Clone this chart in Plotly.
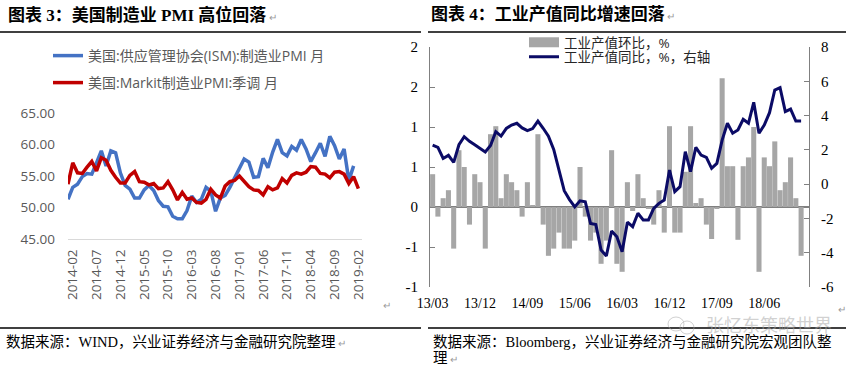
import plotly.graph_objects as go

W, H = 846, 365


def px(x):
    return x / W


def py(y):
    return 1 - y / H


# ---------------- left chart data (US PMI) ----------------
pmi_months = [f"{y}-{m:02d}" for y in range(2014, 2020) for m in range(1, 13)][:62]
pmi_tick_labels = ["2014-02", "2014-07", "2014-12", "2015-05", "2015-10", "2016-03",
                   "2016-08", "2017-01", "2017-06", "2017-11", "2018-04", "2018-09", "2019-02"]
ism_pmi = [51.3, 53.2, 53.7, 54.9, 55.4, 55.3, 57.1, 59.0, 56.6, 59.0, 58.7, 55.5,
           53.5, 52.9, 51.5, 51.5, 52.8, 53.5, 52.7, 51.1, 50.2, 50.1, 48.6, 48.2,
           48.2, 49.5, 51.8, 50.8, 51.3, 53.2, 52.6, 49.4, 51.5, 51.9, 53.2, 54.7,
           56.0, 57.7, 57.2, 54.8, 54.9, 57.8, 56.3, 58.8, 60.8, 58.7, 58.2, 59.7,
           59.1, 60.8, 59.3, 57.3, 58.7, 60.2, 58.1, 61.3, 59.8, 57.7, 59.3, 54.3,
           56.6, None]
markit_pmi = [53.7, 57.1, 55.5, 55.4, 56.4, 57.3, 55.8, 57.9, 57.5, 55.9, 54.8, 53.9,
              53.9, 55.1, 55.7, 54.1, 54.0, 53.6, 53.8, 53.0, 53.1, 54.1, 52.8, 51.2,
              52.4, 51.3, 51.5, 50.8, 50.7, 51.3, 52.9, 52.0, 51.5, 53.4, 54.1, 54.3,
              55.0, 54.2, 53.3, 52.8, 52.7, 52.0, 53.3, 52.8, 53.1, 54.6, 53.9, 55.1,
              55.5, 55.3, 55.6, 56.5, 56.4, 55.4, 55.3, 54.7, 55.6, 55.7, 55.3, 53.8,
              54.9, 53.0]
pmi_y_ticks = [45, 50, 55, 60, 65]

# ---------------- right chart data (industrial production) ----------------
ip_months = [f"{y % 100:02d}/{m:02d}" for y in range(2013, 2020) for m in range(1, 13)][2:74]
ip_tick_labels = ["13/03", "13/12", "14/09", "15/06", "16/03", "16/12", "17/09", "18/06"]
ip_mom = [0.41, -0.12, 0.11, 0.21, -0.52, 0.71, 0.50, -0.22, 0.41, 0.31, -0.52, 0.91,
          1.01, 0.11, 0.41, 0.31, 0.21, -0.12, 0.31, 0.02, 0.91, -0.22, -0.61, -0.52,
          -0.32, -0.52, -0.52, -0.42, 0.50, -0.12, -0.42, -0.32, -0.71, -0.42, 0.71, -0.71,
          -0.81, 0.31, -0.05, 0.41, 0.11, -0.02, -0.22, 0.21, -0.32, 1.01, -0.32, -0.32,
          0.44, 1.01, 0.05, 0.11, -0.22, -0.40, -0.02, 1.61, 0.51, 0.51, -0.41, 0.51,
          0.62, 1.00, -0.81, 0.62, 0.51, 0.82, 0.21, 0.31, 0.62, 0.11, -0.61]
ip_yoy = [2.28, 2.15, 1.50, 1.68, 1.27, 2.30, 2.77, 2.50, 2.30, 2.10, 1.88, 2.25,
          3.06, 2.80, 3.25, 3.45, 3.55, 3.28, 3.12, 3.24, 3.68, 3.26, 2.80, 2.03,
          0.73, -0.38, -0.90, -1.33, -0.97, -1.03, -2.29, -2.35, -3.84, -4.19, -2.73, -3.07,
          -3.94, -2.22, -2.48, -1.70, -2.09, -2.09, -1.41, -1.12, -0.93, 0.82, -0.44, -0.15,
          1.89, 0.73, 2.15, 1.70, 1.56, 0.92, 1.21, 2.57, 3.55, 2.97, 3.16, 3.78,
          3.55, 4.77, 2.97, 3.45, 4.17, 5.49, 5.63, 4.23, 4.38, 3.68, 3.68]
mom_tick_vals = [2, 1.5, 1, 0.5, 0, -0.5, -1]
mom_tick_text = ["2", "2", "1", "1", "0", "-1", "-1"]
yoy_tick_vals = [8, 6, 4, 2, 0, -2, -4, -6]
yoy_tick_text = ["8", "6", "4", "2", "0", "-2", "-4", "-6"]

SANS = "Open Sans, Noto Sans CJK SC, sans-serif"
SERIF = "Liberation Serif, Noto Sans CJK SC, serif"
GRAY_TXT = "#595959"

fig = go.Figure()

# left chart lines
fig.add_trace(go.Scatter(x=pmi_months, y=ism_pmi, mode="lines", name="美国:供应管理协会(ISM):制造业PMI 月",
                         line=dict(color="#4472C4", width=3.5), xaxis="x", yaxis="y",
                         legend="legend", connectgaps=False))
fig.add_trace(go.Scatter(x=pmi_months, y=markit_pmi, mode="lines", name="美国:Markit制造业PMI:季调 月",
                         line=dict(color="#C00000", width=3.5), xaxis="x", yaxis="y",
                         legend="legend2"))

# right chart
fig.add_trace(go.Bar(x=ip_months[:len(ip_mom)], y=ip_mom, name="工业产值环比，%",
                     marker=dict(color="#A6A6A6", line=dict(width=0)),
                     xaxis="x2", yaxis="y2", showlegend=False))
# legend proxy for the bar series (wide grey swatch as in the original)
fig.add_trace(go.Scatter(x=[None], y=[None], mode="lines", name="工业产值环比，%",
                         line=dict(color="#A6A6A6", width=10), xaxis="x2", yaxis="y2",
                         legend="legend3", hoverinfo="skip"))
fig.add_trace(go.Scatter(x=ip_months[:len(ip_yoy)], y=ip_yoy, mode="lines", name="工业产值同比，%，右轴",
                         line=dict(color="#0B0B66", width=3), xaxis="x2", yaxis="y3",
                         legend="legend4"))

legend_common = dict(bgcolor="rgba(0,0,0,0)", borderwidth=0, xanchor="left", yanchor="middle")

fig.update_layout(
    template="none",
    width=W, height=H,
    margin=dict(l=0, r=0, t=0, b=0, autoexpand=False),
    paper_bgcolor="white", plot_bgcolor="white",
    bargap=0.04,
    showlegend=True,
    legend=dict(x=px(48), y=py(56), font=dict(family=SANS, size=14, color=GRAY_TXT), **legend_common),
    legend2=dict(x=px(48), y=py(83), font=dict(family=SANS, size=14, color=GRAY_TXT), **legend_common),
    legend3=dict(x=px(524), y=py(42.5), font=dict(family=SANS, size=13.5, color="#262626"), **legend_common),
    legend4=dict(x=px(524), y=py(57), font=dict(family=SANS, size=13.5, color="#262626"), **legend_common),
    xaxis=dict(domain=[px(68), px(362)], anchor="y", type="category", categoryarray=pmi_months,
               range=[0, 61.76], tickmode="array", tickvals=pmi_tick_labels, tickangle=-90,
               showgrid=False, zeroline=False, showline=True, linecolor="#D9D9D9", linewidth=1,
               ticks="", ticklabelstandoff=4, automargin=False,
               tickfont=dict(family=SANS, size=13.5, color=GRAY_TXT)),
    yaxis=dict(domain=[py(239), py(113)], anchor="x", range=[45, 65], tickmode="array",
               tickvals=pmi_y_ticks, tickformat=".2f", showgrid=False, zeroline=False,
               showline=False, ticks="", ticklabelstandoff=12, automargin=False,
               tickfont=dict(family=SANS, size=13.5, color=GRAY_TXT)),
    xaxis2=dict(domain=[px(430), px(809)], anchor="y2", type="category", categoryarray=ip_months,
                range=[-0.5, 71.5], tickmode="array", tickvals=ip_tick_labels,
                showgrid=False, zeroline=False, showline=False, ticks="", ticklabelstandoff=6,
                automargin=False,
                tickfont=dict(family=SERIF, size=14, color="black")),
    yaxis2=dict(domain=[py(287), py(47)], anchor="x2", range=[-1, 2], tickmode="array",
                tickvals=mom_tick_vals, ticktext=mom_tick_text, showgrid=False,
                zeroline=True, zerolinecolor="#808080", zerolinewidth=1.5,
                showline=True, linecolor="#808080", linewidth=1.2,
                ticks="inside", ticklen=5, tickcolor="#808080", ticklabelstandoff=8,
                automargin=False,
                tickfont=dict(family=SERIF, size=15, color="black")),
    yaxis3=dict(overlaying="y2", side="right", anchor="x2", range=[-6, 8], tickmode="array",
                tickvals=yoy_tick_vals, ticktext=yoy_tick_text, showgrid=False, zeroline=False,
                showline=True, linecolor="#808080", linewidth=1.2,
                ticks="inside", ticklen=5, tickcolor="#808080", ticklabelstandoff=8,
                automargin=False,
                tickfont=dict(family=SERIF, size=15, color="black")),
)

RET = '<span style="color:#9a9a9a;font-size:10px"> ↵</span>'

annotations = [
    dict(x=px(6), y=py(15), text="<b>图表 3：美国制造业 PMI 高位回落</b>" + RET,
         font=dict(family=SERIF, size=17, color="black")),
    dict(x=px(429), y=py(15), text="<b>图表 4：工业产值同比增速回落</b>" + RET,
         font=dict(family=SERIF, size=17, color="black")),
    dict(x=px(4), y=py(342), text="数据来源：WIND，兴业证券经济与金融研究院整理" + RET,
         font=dict(family=SERIF, size=14.5, color="black")),
    dict(x=px(431), y=py(342), text="数据来源：Bloomberg，兴业证券经济与金融研究院宏观团队整",
         font=dict(family=SERIF, size=14.5, color="black")),
    dict(x=px(431), y=py(357.5), text="理" + RET, font=dict(family=SERIF, size=14.5, color="black")),
    dict(x=px(704), y=py(323.5), text="张忆东策略世界",
         font=dict(family="Noto Sans CJK SC", size=18, color="rgba(170,170,170,0.55)")),
    dict(x=px(381), y=py(305), text="↵", font=dict(family=SERIF, size=10, color="#9a9a9a")),
    dict(x=px(836), y=py(309), text="↵", font=dict(family=SERIF, size=10, color="#9a9a9a")),
]
for a in annotations:
    a.update(xref="paper", yref="paper", xanchor="left", yanchor="middle", showarrow=False)
fig.update_layout(annotations=annotations)

line_style = dict(color="black", width=1.5)
fig.update_layout(shapes=[
    dict(type="line", xref="paper", yref="paper", x0=px(0), x1=px(421), y0=py(32), y1=py(32), line=line_style),
    dict(type="line", xref="paper", yref="paper", x0=px(428), x1=px(846), y0=py(32), y1=py(32), line=line_style),
    dict(type="line", xref="paper", yref="paper", x0=px(0), x1=px(421), y0=py(328), y1=py(328), line=line_style),
    dict(type="line", xref="paper", yref="paper", x0=px(428), x1=px(846), y0=py(328), y1=py(328), line=line_style),
    dict(type="circle", xref="paper", yref="paper", x0=px(668), x1=px(684), y0=py(331), y1=py(317),
         line=dict(color="rgba(170,170,170,0.55)", width=1)),
    dict(type="circle", xref="paper", yref="paper", x0=px(680), x1=px(694), y0=py(334), y1=py(321),
         line=dict(color="rgba(170,170,170,0.55)", width=1)),
])

fig.write_html("out.html",
               config={"displayModeBar": False},
               post_script="document.body.style.margin='0';document.body.style.overflow='hidden';")
